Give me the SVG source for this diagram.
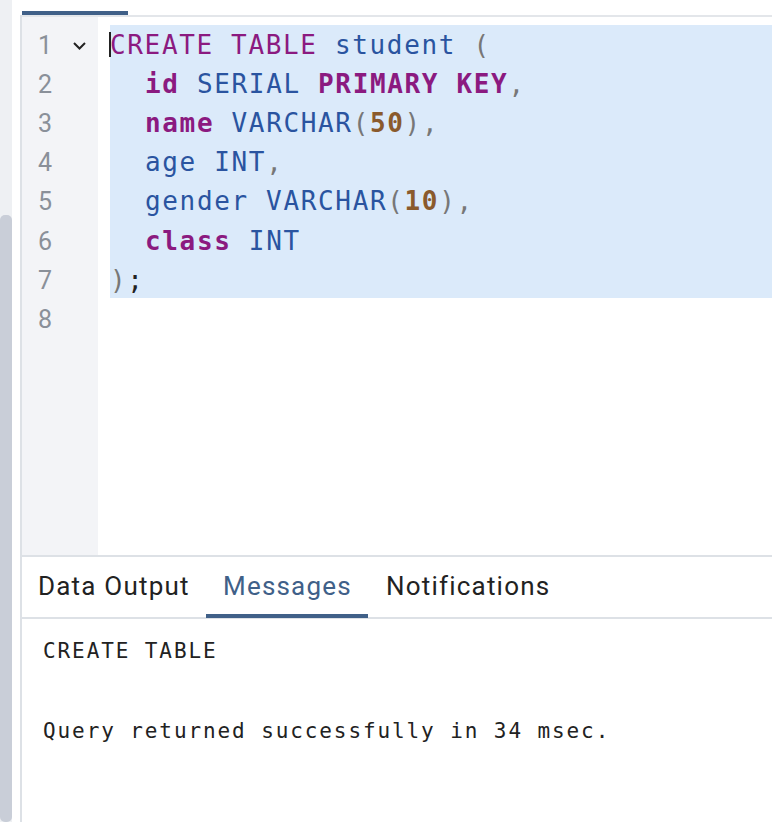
<svg xmlns="http://www.w3.org/2000/svg" width="772" height="822" viewBox="0 0 772 822">
<style>
.c{font-family:"DejaVu Sans Mono","Liberation Mono",monospace;font-size:26px;letter-spacing:1.65px}
.k{fill:#8b1a80}.b{font-weight:bold}.t{fill:#2a54a0}.n{fill:#8a5a2c;font-weight:bold}.p{fill:#777}
.ln{font-family:"Roboto","Liberation Sans",sans-serif;font-size:25px;fill:#8a9099;text-anchor:end}
.tab{font-family:"Roboto","Liberation Sans",sans-serif;font-size:26px;letter-spacing:1.2px;fill:#222}
.m{font-family:"DejaVu Sans Mono","Liberation Mono",monospace;font-size:21px;letter-spacing:1.9px;fill:#222}
</style>
<rect width="772" height="822" fill="#fff"/>
<rect x="0" y="0" width="12" height="822" fill="#eef0f3"/>
<rect x="0" y="215" width="12" height="607" rx="5" fill="#c9ced8"/>
<rect x="20" y="15" width="2" height="807" fill="#dde1e6"/>
<rect x="22" y="15" width="750" height="2" fill="#e3e6ea"/>
<rect x="22" y="11" width="106" height="4" fill="#406088"/>
<g id="gutter">
<rect x="22" y="17" width="76" height="538" fill="#f3f4f7"/>
<text class="ln" x="52" y="54">1</text><text class="ln" x="52" y="93">2</text><text class="ln" x="52" y="132">3</text><text class="ln" x="52" y="171">4</text><text class="ln" x="52" y="210">5</text><text class="ln" x="52" y="250">6</text><text class="ln" x="52" y="289">7</text><text class="ln" x="52" y="328">8</text>
<path d="M74 43 L79.5 48.5 L85 43" fill="none" stroke="#222" stroke-width="2"/>
</g>
<g id="editor">
<rect x="110" y="25" width="662" height="273" fill="#dbeafa"/>
<rect x="109" y="32" width="2" height="25" fill="#222"/>
<text class="c" x="110" y="54"><tspan class="k">CREATE TABLE</tspan><tspan class="t"> student </tspan><tspan class="p">(</tspan></text>
<text class="c" x="145" y="93"><tspan class="k b">id</tspan><tspan class="t"> SERIAL </tspan><tspan class="k b">PRIMARY KEY</tspan><tspan class="p">,</tspan></text>
<text class="c" x="145" y="132"><tspan class="k b">name</tspan><tspan class="t"> VARCHAR</tspan><tspan class="p">(</tspan><tspan class="n">50</tspan><tspan class="p">),</tspan></text>
<text class="c" x="145" y="171"><tspan class="t">age INT</tspan><tspan class="p">,</tspan></text>
<text class="c" x="145" y="210"><tspan class="t">gender VARCHAR</tspan><tspan class="p">(</tspan><tspan class="n">10</tspan><tspan class="p">),</tspan></text>
<text class="c" x="145" y="250"><tspan class="k b">class</tspan><tspan class="t"> INT</tspan></text>
<text class="c" x="110" y="289"><tspan class="p">)</tspan><tspan fill="#222">;</tspan></text>
</g>
<g id="output">
<rect x="22" y="555" width="750" height="2" fill="#dde1e6"/>
<text class="tab" x="38" y="595">Data Output</text>
<text class="tab" x="223" y="595" style="fill:#406088">Messages</text>
<text class="tab" x="386" y="595">Notifications</text>
<rect x="22" y="617" width="750" height="2" fill="#dde1e6"/>
<rect x="206" y="614" width="162" height="4" fill="#406088"/>
<text class="m" x="43" y="658">CREATE TABLE</text>
<text class="m" x="43" y="738">Query returned successfully in 34 msec.</text>
</g>
</svg>
